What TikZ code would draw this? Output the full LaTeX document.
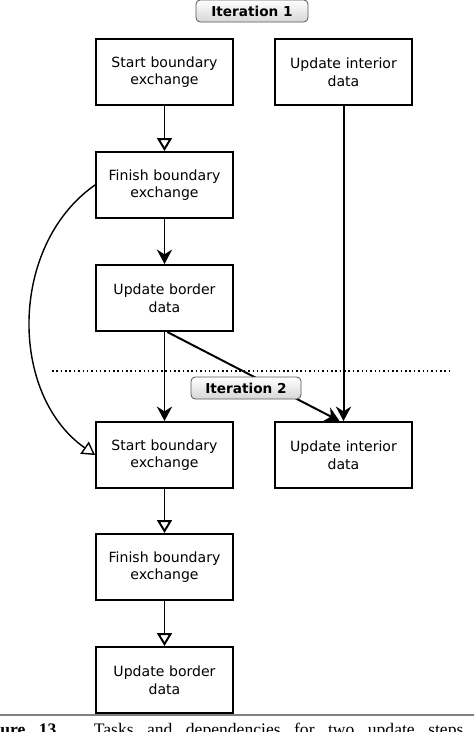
\documentclass[tikz,border=0pt]{standalone}
\usepackage{fontspec}
\setmainfont{DejaVu Sans}
\newfontfamily\capfont{Liberation Serif}
\usetikzlibrary{arrows.meta,positioning}
\tikzset{
  taskbox/.style = {draw=black,line width=1.4pt,fill=white,
                    minimum width=3.425cm,minimum height=1.65cm,
                    text width=3.3cm,align=center,inner sep=0pt,
                    font=\fontsize{10}{12.5}\selectfont},
  iterlbl/.style = {draw=black!65,line width=0.6pt,rounded corners=3pt,
                    top color=white,bottom color=black!16,
                    minimum width=2.8cm,minimum height=0.55cm,inner sep=0pt,
                    font=\fontsize{9.7}{11}\selectfont\bfseries},
  dep/.style     = {-{Stealth[length=0.36cm,width=0.38cm]},line width=1.4pt},
  opendep/.style = {-{Triangle[open,length=0.32cm,width=0.37cm]},line width=1.4pt},
}
\begin{document}
\begin{tikzpicture}[x=0.025cm,y=-0.025cm]
  \useasboundingbox (0,0) rectangle (474,732);
  \node[taskbox] (start1) at (164.5,72) {Start boundary\\exchange};
  \node[taskbox,below=1.125cm of start1] (finish1) {Finish boundary\\exchange};
  \node[taskbox,below=1.125cm of finish1] (border1) {Update border\\data};
  \node[taskbox,below=2.225cm of border1] (start2) {Start boundary\\exchange};
  \node[taskbox,below=1.1cm of start2] (finish2) {Finish boundary\\exchange};
  \node[taskbox,below=1.125cm of finish2] (border2) {Update border\\data};
  \node[taskbox,right=1cm of start1] (inner1) {Update interior\\data};
  \node[taskbox,right=1cm of start2] (inner2) {Update interior\\data};

  \coordinate (sepL) at (52,371);
  \coordinate (sepR) at (450,371);
  \draw[dotted,line width=1.1pt] (sepL) -- (sepR);

  \draw[opendep] (start1) -- (finish1);
  \draw[dep] (finish1) -- (border1);
  \draw[dep] (border1) -- (start2);
  \draw[dep] (inner1) -- (inner2);
  \draw[dep] ([xshift=0.07cm]border1.south) -- ([xshift=-0.1cm]inner2.north);
  \draw[opendep,line width=1pt] (finish1.west) to[out=215,in=145] (start2.west);
  \draw[opendep] (start2) -- (finish2);
  \draw[opendep] (finish2) -- (border2);

  \node[iterlbl] (iter1) at (252,11) {Iteration 1};
  \node[iterlbl,minimum width=2.75cm] (iter2) at (246,388) {Iteration 2};

  \coordinate (ruleL) at (0,715);
  \coordinate (ruleR) at (474,715);
  \draw[black!50,line width=1.4pt] (ruleL) -- (ruleR);
  \node[anchor=base west,inner sep=0pt,font=\capfont\fontsize{12.5}{14}\selectfont]
    (caption) at (0,735)
    {\makebox[11.575cm][s]{\textbf{ure 13.} Tasks and dependencies for two update steps}};
\end{tikzpicture}
\end{document}
